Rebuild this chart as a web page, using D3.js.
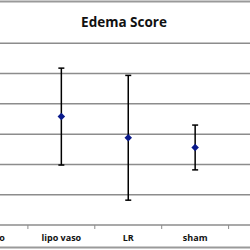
<!DOCTYPE html>
<html>
<head>
<meta charset="utf-8">
<script src="https://cdn.jsdelivr.net/npm/d3@7"></script>
<style>
  body { margin: 0; background: #fff; }
  svg { display: block; font-family: "Open Sans", sans-serif; }
</style>
</head>
<body>
<div id="chart"></div>
<script>
// categories (first and last are cut off by the crop)
const categories = ['vaso', 'lipo vaso', 'LR', 'sham', ''];
// mean edema score and error (+/-) for visible groups
const groups = ['lipo vaso', 'LR', 'sham'];
const means = [1.79, 1.44, 1.28];
const errors = [0.80, 1.03, 0.37];
const yTicks = [0, 0.5, 1, 1.5, 2, 2.5, 3];

const width = 250;
const height = 250;

const svg = d3.select('#chart').append('svg')
  .attr('width', width)
  .attr('height', height);

// outer chart frame (only top and bottom edges visible)
svg.append('line').attr('x1', 0).attr('x2', width).attr('y1', 1.5).attr('y2', 1.5)
  .attr('stroke', '#9a9a9a').attr('stroke-width', 2);
svg.append('line').attr('x1', 0).attr('x2', width).attr('y1', 247.5).attr('y2', 247.5)
  .attr('stroke', '#9a9a9a').attr('stroke-width', 2);

svg.append('text')
  .attr('x', 124)
  .attr('y', 27)
  .attr('text-anchor', 'middle')
  .attr('font-size', 13.5)
  .attr('font-weight', 'bold')
  .attr('fill', '#111')
  .text('Edema Score');

const scaleX = d3.scaleBand()
  .domain(categories)
  .range([-39, 295.5])
  .padding(0);

const scaleY = d3.scaleLinear()
  .domain([0, 3])
  .range([225, 43.3]);

// gridlines
svg.append('g')
  .selectAll('line')
  .data(yTicks.slice(1))
  .join('line')
  .attr('x1', 0)
  .attr('x2', width)
  .attr('y1', d => scaleY(d))
  .attr('y2', d => scaleY(d))
  .attr('stroke', '#8c8c8c')
  .attr('stroke-width', 1.5);

// x axis
const xAxis = svg.append('g')
  .attr('transform', `translate(0, ${scaleY(0)})`);
xAxis.append('line')
  .attr('x1', 0).attr('x2', width)
  .attr('stroke', '#8c8c8c').attr('stroke-width', 1.5);
xAxis.selectAll('.tick')
  .data(categories.slice(1))
  .join('line')
  .attr('class', 'tick')
  .attr('x1', d => scaleX(d))
  .attr('x2', d => scaleX(d))
  .attr('y1', 0).attr('y2', 4)
  .attr('stroke', '#8c8c8c').attr('stroke-width', 1);
xAxis.selectAll('text')
  .data(categories)
  .join('text')
  .attr('x', d => scaleX(d) + scaleX.bandwidth() / 2)
  .attr('y', 16)
  .attr('text-anchor', 'middle')
  .attr('font-size', 9)
  .attr('font-weight', 'bold')
  .attr('fill', '#111')
  .text(d => d);

// error bars + markers
const cx = d => scaleX(d) + scaleX.bandwidth() / 2;
const $vis = svg.append('g');
const pts = $vis.selectAll('g.pt')
  .data(groups.map((g, i) => ({ g, m: means[i], e: errors[i] })))
  .join('g')
  .attr('class', 'pt');

pts.append('line')
  .attr('x1', d => cx(d.g)).attr('x2', d => cx(d.g))
  .attr('y1', d => scaleY(d.m + d.e)).attr('y2', d => scaleY(d.m - d.e))
  .attr('stroke', '#000').attr('stroke-width', 1.5);
pts.append('line')
  .attr('x1', d => cx(d.g) - 3).attr('x2', d => cx(d.g) + 3)
  .attr('y1', d => scaleY(d.m + d.e)).attr('y2', d => scaleY(d.m + d.e))
  .attr('stroke', '#000').attr('stroke-width', 1.5);
pts.append('line')
  .attr('x1', d => cx(d.g) - 3).attr('x2', d => cx(d.g) + 3)
  .attr('y1', d => scaleY(d.m - d.e)).attr('y2', d => scaleY(d.m - d.e))
  .attr('stroke', '#000').attr('stroke-width', 1.5);
pts.append('path')
  .attr('d', d3.symbol(d3.symbolDiamond2, 36))
  .attr('transform', d => `translate(${cx(d.g)}, ${scaleY(d.m)})`)
  .attr('fill', '#0a1a8c');
</script>
</body>
</html>
